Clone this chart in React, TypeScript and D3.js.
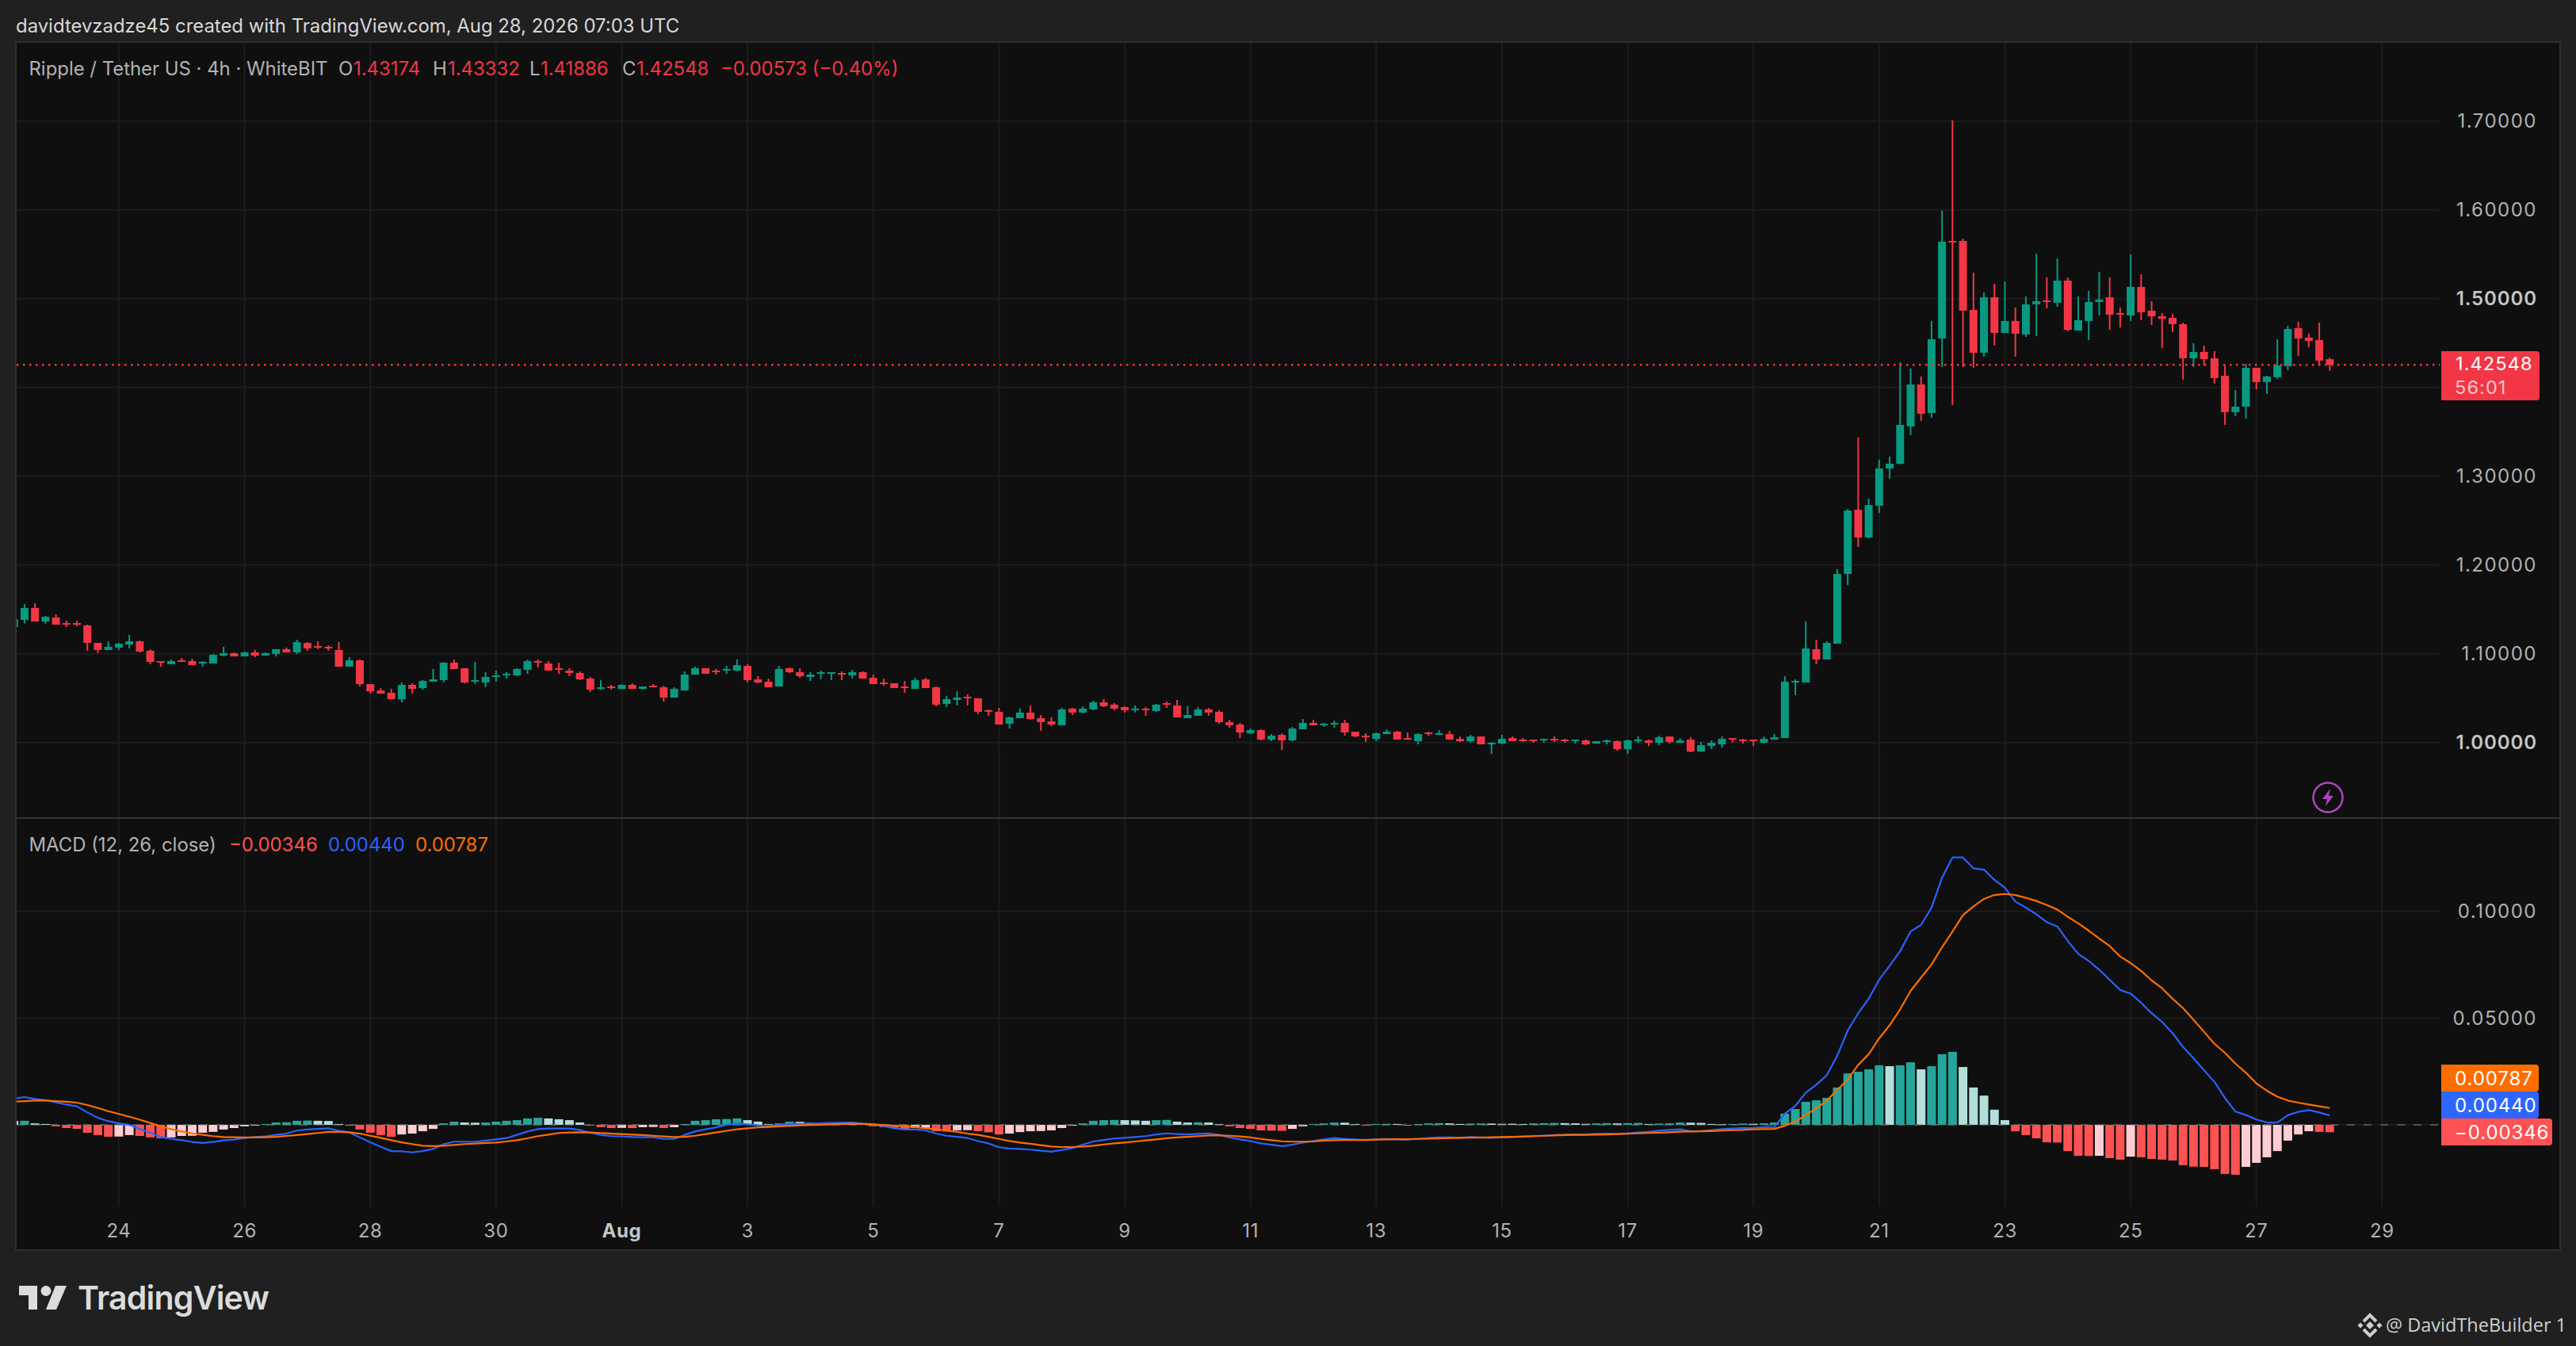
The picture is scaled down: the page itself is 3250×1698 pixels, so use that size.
import React from "react";
import * as d3 from "d3";

// ---- Candles: 4h bars, first bar index 0 is Jul 22 (clipped at the pane edge) ----
const opens = [
1.1301,1.1381,1.1515,1.1363,1.1408,1.1345,1.1345,1.1319,1.1122,1.1042,
1.1069,1.1104,1.1140,1.1033,1.0917,1.0881,1.0926,1.0917,1.0890,1.0890,
1.0979,1.1006,1.0970,1.1015,1.0979,1.0997,1.1051,1.1015,1.1122,1.1086,
1.1078,1.1042,1.0854,1.0926,1.0658,1.0586,1.0560,1.0488,1.0649,1.0613,
1.0685,1.0703,1.0899,1.0837,1.0685,1.0676,1.0738,1.0756,1.0756,1.0819,
1.0917,1.0890,1.0837,1.0810,1.0783,1.0720,1.0604,1.0631,1.0604,1.0649,
1.0604,1.0640,1.0622,1.0506,1.0586,1.0765,1.0837,1.0810,1.0810,1.0810,
1.0863,1.0711,1.0685,1.0631,1.0837,1.0792,1.0738,1.0774,1.0774,1.0783,
1.0756,1.0792,1.0729,1.0676,1.0667,1.0631,1.0604,1.0711,1.0622,1.0435,
1.0480,1.0516,1.0498,1.0364,1.0346,1.0212,1.0274,1.0337,1.0274,1.0238,
1.0194,1.0382,1.0337,1.0373,1.0453,1.0426,1.0399,1.0364,1.0382,1.0355,
1.0444,1.0417,1.0274,1.0301,1.0373,1.0346,1.0229,1.0203,1.0104,1.0140,
1.0033,1.0086,1.0024,1.0149,1.0221,1.0194,1.0203,1.0221,1.0122,1.0077,
1.0041,1.0095,1.0122,1.0050,1.0015,1.0113,1.0086,1.0095,1.0041,1.0015,
1.0068,0.9979,0.9988,1.0050,1.0033,1.0033,1.0024,1.0041,1.0033,1.0015,
1.0024,0.9988,1.0006,1.0015,0.9925,1.0015,1.0024,0.9997,1.0068,0.9997,
1.0033,0.9898,0.9961,0.9979,1.0050,1.0033,1.0033,0.9997,1.0033,1.0051,
1.0676,1.0676,1.1051,1.0935,1.1113,1.1899,1.2622,1.2310,1.2667,1.3086,
1.3140,1.3560,1.4033,1.3712,1.4551,1.5649,1.5649,1.4873,1.4390,1.5015,
1.4614,1.4748,1.4596,1.4935,1.4980,1.4953,1.5203,1.4640,1.4748,1.4962,
1.5015,1.4837,1.4810,1.5132,1.4864,1.4801,1.4783,1.4712,1.4328,1.4399,
1.4328,1.4132,1.3721,1.3783,1.4221,1.4060,1.4114,1.4239,1.4667,1.4560,
1.4533,1.43174];

const highs = [
1.1390,1.1560,1.1569,1.1426,1.1444,1.1372,1.1372,1.1328,1.1122,1.1140,
1.1122,1.1212,1.1149,1.1051,1.0917,1.0935,1.0952,1.0944,1.0917,1.0997,
1.1078,1.1015,1.1024,1.1042,1.1015,1.1051,1.1069,1.1158,1.1131,1.1140,
1.1095,1.1131,1.0961,1.0935,1.0658,1.0613,1.0604,1.0676,1.0667,1.0703,
1.0828,1.0908,1.0935,1.0837,1.0908,1.0792,1.0810,1.0792,1.0837,1.0935,
1.0935,1.0917,1.0899,1.0837,1.0801,1.0738,1.0703,1.0649,1.0658,1.0667,
1.0631,1.0658,1.0640,1.0622,1.0801,1.0854,1.0837,1.0828,1.0863,1.0935,
1.0881,1.0747,1.0720,1.0863,1.0845,1.0836,1.0792,1.0810,1.0792,1.0801,
1.0818,1.0801,1.0765,1.0720,1.0667,1.0693,1.0729,1.0729,1.0631,1.0525,
1.0578,1.0542,1.0498,1.0373,1.0390,1.0292,1.0382,1.0417,1.0310,1.0283,
1.0390,1.0390,1.0408,1.0471,1.0489,1.0444,1.0408,1.0417,1.0399,1.0435,
1.0462,1.0480,1.0408,1.0399,1.0390,1.0364,1.0256,1.0221,1.0158,1.0149,
1.0095,1.0104,1.0176,1.0265,1.0256,1.0221,1.0247,1.0256,1.0122,1.0104,
1.0113,1.0149,1.0131,1.0113,1.0104,1.0122,1.0140,1.0131,1.0068,1.0086,
1.0068,1.0006,1.0086,1.0068,1.0050,1.0033,1.0041,1.0068,1.0041,1.0033,
1.0033,1.0015,1.0033,1.0024,1.0033,1.0068,1.0033,1.0077,1.0068,1.0050,
1.0059,1.0006,1.0024,1.0068,1.0050,1.0041,1.0033,1.0068,1.0095,1.0747,
1.0712,1.1363,1.1158,1.1140,1.1953,1.2631,1.3435,1.2747,1.3185,1.3220,
1.4283,1.4212,1.4123,1.4748,1.5989,1.7007,1.5676,1.5292,1.5069,1.5167,
1.5194,1.4899,1.5024,1.5507,1.5239,1.5453,1.5239,1.5024,1.5087,1.5301,
1.5239,1.4899,1.5498,1.5274,1.4971,1.4837,1.4828,1.4730,1.4498,1.4471,
1.4408,1.4248,1.3971,1.4265,1.4221,1.4132,1.4542,1.4694,1.4739,1.4605,
1.4730,1.43332];

const lows = [
1.1301,1.1340,1.1363,1.1337,1.1328,1.1301,1.1310,1.1033,1.1006,1.1042,
1.1042,1.1060,1.1015,1.0881,1.0854,1.0881,1.0908,1.0872,1.0854,1.0890,
1.0970,1.0970,1.0970,1.0961,1.0979,1.0970,1.1015,1.0997,1.1033,1.1051,
1.1033,1.0854,1.0854,1.0631,1.0551,1.0551,1.0488,1.0453,1.0551,1.0595,
1.0685,1.0676,1.0828,1.0667,1.0658,1.0622,1.0685,1.0720,1.0747,1.0774,
1.0845,1.0810,1.0774,1.0747,1.0703,1.0569,1.0595,1.0595,1.0604,1.0604,
1.0595,1.0622,1.0462,1.0506,1.0586,1.0765,1.0774,1.0765,1.0774,1.0801,
1.0676,1.0667,1.0622,1.0631,1.0783,1.0729,1.0693,1.0711,1.0702,1.0702,
1.0720,1.0720,1.0658,1.0640,1.0613,1.0560,1.0604,1.0613,1.0408,1.0399,
1.0417,1.0417,1.0319,1.0301,1.0203,1.0158,1.0274,1.0256,1.0131,1.0185,
1.0194,1.0310,1.0328,1.0364,1.0399,1.0364,1.0337,1.0337,1.0301,1.0346,
1.0390,1.0283,1.0274,1.0301,1.0301,1.0212,1.0167,1.0050,1.0095,1.0024,
1.0015,0.9916,1.0015,1.0149,1.0194,1.0176,1.0167,1.0077,1.0059,1.0006,
1.0015,1.0095,1.0033,1.0033,0.9979,1.0077,1.0086,1.0033,1.0006,0.9997,
0.9979,0.9872,0.9979,1.0015,1.0006,0.9997,0.9997,1.0006,0.9997,0.9988,
0.9970,0.9988,0.9979,0.9907,0.9872,0.9997,0.9961,0.9970,0.9988,0.9997,
0.9890,0.9898,0.9925,0.9943,0.9997,0.9988,0.9961,0.9988,1.0033,1.0051,
1.0533,1.0676,1.0881,1.0935,1.1113,1.1774,1.2203,1.2301,1.2586,1.2970,
1.3131,1.3462,1.3623,1.3658,1.4230,1.3801,1.4230,1.4221,1.4346,1.4471,
1.4614,1.4346,1.4569,1.4578,1.4890,1.4908,1.4632,1.4640,1.4533,1.4810,
1.4649,1.4676,1.4748,1.4757,1.4703,1.4444,1.4623,1.4087,1.4230,1.4248,
1.4042,1.3578,1.3676,1.3649,1.3980,1.3926,1.4096,1.4194,1.4355,1.4453,
1.4248,1.41886];

const closes = [
1.1390,1.1515,1.1363,1.1417,1.1328,1.1328,1.1328,1.1122,1.1042,1.1078,
1.1113,1.1140,1.1024,1.0908,1.0899,1.0917,1.0908,1.0872,1.0908,1.0988,
1.1006,1.0970,1.1015,1.0979,1.1006,1.1051,1.1015,1.1131,1.1060,1.1069,
1.1060,1.0854,1.0926,1.0658,1.0577,1.0551,1.0488,1.0649,1.0604,1.0694,
1.0711,1.0899,1.0828,1.0676,1.0703,1.0738,1.0756,1.0774,1.0828,1.0917,
1.0899,1.0810,1.0819,1.0783,1.0711,1.0595,1.0622,1.0613,1.0649,1.0604,
1.0631,1.0622,1.0506,1.0604,1.0765,1.0837,1.0774,1.0792,1.0828,1.0872,
1.0703,1.0676,1.0622,1.0828,1.0792,1.0747,1.0765,1.0792,1.0792,1.0765,
1.0792,1.0720,1.0658,1.0658,1.0613,1.0613,1.0702,1.0613,1.0426,1.0489,
1.0507,1.0498,1.0346,1.0346,1.0203,1.0283,1.0337,1.0265,1.0229,1.0203,
1.0373,1.0337,1.0382,1.0453,1.0408,1.0382,1.0364,1.0382,1.0364,1.0426,
1.0426,1.0283,1.0310,1.0373,1.0337,1.0229,1.0194,1.0113,1.0140,1.0033,
1.0077,1.0024,1.0158,1.0221,1.0194,1.0212,1.0221,1.0113,1.0068,1.0059,
1.0104,1.0122,1.0033,1.0033,1.0095,1.0095,1.0104,1.0033,1.0015,1.0068,
0.9979,0.9997,1.0041,1.0015,1.0015,1.0015,1.0041,1.0024,1.0015,1.0033,
0.9979,1.0015,1.0024,0.9925,1.0024,1.0033,0.9997,1.0059,1.0006,1.0024,
0.9898,0.9970,0.9997,1.0041,1.0033,1.0015,1.0015,1.0041,1.0059,1.0685,
1.0694,1.1060,1.0935,1.1122,1.1899,1.2613,1.2310,1.2675,1.3086,1.3140,
1.3578,1.4033,1.3703,1.4542,1.5640,1.5632,1.4864,1.4390,1.5015,1.4614,
1.4748,1.4605,1.4935,1.4971,1.4962,1.5203,1.4649,1.4757,1.4962,1.4989,
1.4819,1.4819,1.5132,1.4846,1.4801,1.4774,1.4712,1.4328,1.4399,1.4319,
1.4105,1.3721,1.3783,1.4221,1.4060,1.4123,1.4248,1.4658,1.4551,1.4524,
1.4301,1.42548];

// ---- MACD (12, 26, close) ----
const macdLine = [
.0123,.0130,.0121,.0116,.0105,.0095,.0087,.0058,.0033,.0017,
.0007,0,-.0019,-.0037,-.0057,-.0066,-.0072,-.0080,-.0085,-.0080,
-.0073,-.0069,-.0062,-.0057,-.0054,-.0047,-.0041,-.0027,-.0022,-.0019,
-.0016,-.0028,-.0035,-.0059,-.0082,-.0103,-.0123,-.0124,-.0129,-.0123,
-.0113,-.0090,-.0079,-.0079,-.0079,-.0074,-.0068,-.0062,-.0047,-.0031,
-.0020,-.0017,-.0017,-.0017,-.0024,-.0037,-.0047,-.0053,-.0054,-.0057,
-.0058,-.0058,-.0066,-.0066,-.0047,-.0031,-.0021,-.0012,0,.0006,
.0002,-.0002,-.0010,.0001,.0004,.0004,.0006,.0007,.0009,.0010,
.0011,.0005,.0002,-.0006,-.0016,-.0022,-.0022,-.0026,-.0041,-.0051,
-.0056,-.0062,-.0076,-.0087,-.0105,-.0111,-.0113,-.0116,-.0121,-.0126,
-.0118,-.0109,-.0093,-.0078,-.0071,-.0064,-.0061,-.0057,-.0053,-.0045,
-.0040,-.0043,-.0045,-.0042,-.0040,-.0047,-.0059,-.0068,-.0076,-.0087,
-.0093,-.0100,-.0093,-.0083,-.0076,-.0068,-.0062,-.0066,-.0069,-.0071,
-.0069,-.0066,-.0068,-.0069,-.0066,-.0062,-.0059,-.0059,-.0061,-.0057,
-.0059,-.0061,-.0059,-.0057,-.0054,-.0053,-.0051,-.0048,-.0046,-.0045,
-.0045,-.0042,-.0041,-.0043,-.0040,-.0036,-.0033,-.0027,-.0024,-.0021,
-.0030,-.0029,-.0025,-.0020,-.0017,-.0015,-.0014,-.0011,-.0010,.0052,
.0089,.0151,.0188,.0232,.0324,.0442,.0523,.0591,.0680,.0745,
.0814,.0906,.0937,.1018,.1158,.1253,.1253,.1202,.1196,.1148,
.1111,.1046,.1018,.0987,.0950,.0930,.0861,.0801,.0768,.0727,
.0680,.0632,.0615,.0572,.0523,.0482,.0430,.0365,.0312,.0256,
.0201,.0126,.0062,.0046,.0025,.0011,.0011,.0045,.0061,.0069,
.0058,.0044];

const signalLine = [
.0108,.0111,.0114,.0114,.0111,.0108,.0104,.0093,.0079,.0064,
.0051,.0038,.0024,.0009,-.0007,-.0020,-.0031,-.0040,-.0047,-.0053,
-.0057,-.0058,-.0059,-.0059,-.0058,-.0056,-.0052,-.0048,-.0043,-.0038,
-.0033,-.0033,-.0035,-.0041,-.0051,-.0061,-.0072,-.0082,-.0090,-.0098,
-.0100,-.0098,-.0094,-.0090,-.0088,-.0085,-.0083,-.0078,-.0072,-.0063,
-.0053,-.0046,-.0038,-.0036,-.0035,-.0036,-.0038,-.0041,-.0043,-.0046,
-.0048,-.0051,-.0054,-.0057,-.0056,-.0051,-.0043,-.0036,-.0028,-.0021,
-.0016,-.0012,-.0010,-.0007,-.0005,-.0002,-.0001,0,.0002,.0004,
.0005,.0005,.0002,-.0001,-.0004,-.0007,-.0011,-.0016,-.0021,-.0027,
-.0033,-.0041,-.0047,-.0056,-.0066,-.0076,-.0083,-.0089,-.0095,-.0102,
-.0104,-.0104,-.0102,-.0098,-.0092,-.0087,-.0083,-.0078,-.0073,-.0068,
-.0063,-.0059,-.0056,-.0053,-.0050,-.0050,-.0051,-.0054,-.0059,-.0066,
-.0072,-.0077,-.0079,-.0079,-.0078,-.0074,-.0072,-.0071,-.0071,-.0071,
-.0069,-.0068,-.0067,-.0067,-.0066,-.0065,-.0064,-.0062,-.0061,-.0060,
-.0060,-.0058,-.0057,-.0056,-.0055,-.0053,-.0051,-.0050,-.0048,-.0047,
-.0047,-.0046,-.0045,-.0043,-.0041,-.0040,-.0038,-.0037,-.0035,-.0032,
-.0031,-.0030,-.0029,-.0027,-.0025,-.0024,-.0021,-.0020,-.0019,-.0004,
.0015,.0046,.0077,.0114,.0163,.0213,.0281,.0331,.0405,.0467,
.0541,.0628,.0690,.0752,.0832,.0906,.0983,.1024,.1059,.1077,
.1082,.1077,.1064,.1049,.1030,.1009,.0975,.0944,.0910,.0873,
.0838,.0789,.0758,.0721,.0677,.0640,.0591,.0547,.0492,.0436,
.0380,.0337,.0287,.0244,.0194,.0160,.0132,.0114,.0104,.0095,
.0087,.0079];

const histogram = [
.0018,.0019,.0007,.0004,-.0007,-.0015,-.0019,-.0037,-.0048,-.0056,
-.0055,-.0048,-.0052,-.0059,-.0063,-.0059,-.0052,-.0051,-.0037,-.0033,
-.0022,-.0015,-.0007,-.0004,.0004,.0011,.0012,.0019,.0020,.0019,
.0018,.0004,-.0004,-.0022,-.0037,-.0048,-.0056,-.0045,-.0041,-.0030,
-.0019,.0007,.0015,.0011,.0010,.0011,.0015,.0019,.0022,.0030,
.0033,.0030,.0026,.0022,.0011,-.0004,-.0011,-.0015,-.0014,-.0015,
-.0011,-.0010,-.0015,-.0011,.0004,.0019,.0022,.0026,.0027,.0030,
.0022,.0015,.0004,.0007,.0015,.0014,.0010,.0009,.0010,.0009,
.0009,.0006,-.0007,-.0011,-.0014,-.0019,-.0015,-.0014,-.0030,-.0031,
-.0026,-.0025,-.0030,-.0035,-.0045,-.0041,-.0034,-.0030,-.0029,-.0026,
-.0015,-.0004,.0007,.0019,.0022,.0023,.0022,.0021,.0019,.0022,
.0023,.0015,.0011,.0012,.0011,.0004,-.0007,-.0015,-.0019,-.0026,
-.0027,-.0028,-.0019,-.0007,.0004,.0007,.0011,.0010,.0004,-.0004,
.0004,.0005,.0004,-.0004,.0004,.0007,.0008,.0007,.0004,.0006,
.0007,.0006,.0005,.0005,.0004,.0007,.0008,.0009,.0008,.0007,
.0005,.0007,.0008,.0007,.0008,.0009,.0004,.0006,.0007,.0011,
.0010,.0009,.0004,.0003,.0004,.0006,.0005,.0007,.0011,.0052,
.0074,.0108,.0115,.0126,.0175,.0241,.0249,.0260,.0279,.0275,
.0279,.0293,.0260,.0275,.0331,.0342,.0271,.0175,.0137,.0071,
.0022,-.0030,-.0048,-.0063,-.0082,-.0083,-.0123,-.0145,-.0146,-.0145,
-.0156,-.0163,-.0149,-.0152,-.0160,-.0163,-.0167,-.0189,-.0196,-.0197,
-.0208,-.0230,-.0234,-.0197,-.0178,-.0152,-.0123,-.0074,-.0045,-.0030,
-.0033,-.00346];

// ---- Axis labels ----
const priceGrid = [1.0, 1.1, 1.2, 1.3, 1.4, 1.5, 1.6, 1.7];
const priceLabels = [1.0, 1.1, 1.2, 1.3, 1.5, 1.6, 1.7]; // 1.4 sits behind the last-price tag
const emphasisedPrices = [1.0, 1.5];
const macdTicks = [0.05, 0.1];
const timeLabels = ["24","26","28","30","Aug","3","5","7","9","11","13","15","17","19","21","23","25","27","29"];
const lastPrice = 1.42548;
const countdown = "56:01";
const macdValue = 0.00440, signalValue = 0.00787, histValue = -0.00346;

// ---- Theme ----
const UP = "#089981", DOWN = "#f23645";
const BG = "#202020", PANE = "#0f0f0f", GRID = "#1c1c1c", FRAME = "#2e2e2e", AXIS = "#b2b2b2";
const FONT = "Inter, 'Liberation Sans', sans-serif";
const W = 3250, H = 1698;
const L = 21, R = 3229, PLOT_R = 3078, T = 54, DIV = 1032, TB = 1522, B = 1577;

const fmt = (v: number) => v.toFixed(5);
const minus = (s: string) => s.replace("-", "\u2212");

export default function App() {
  const n = closes.length;
  const x = d3.scaleLinear().domain([10, 226]).range([149.9, 3005.4]);
  const y = d3.scaleLinear().domain([1.5, 1.0]).range([376.7, 936.7]);
  const ym = d3.scaleLinear().domain([0.1, 0]).range([1149.8, 1419]);
  const idx = d3.range(n);
  const timeIdx = timeLabels.map((_, i) => 10 + i * 12);

  const lineOf = (a: number[]) =>
    d3.line<number>().x((i) => x(i)).y((i) => ym(a[i]))(idx) || "";

  const histColor = (i: number) => {
    const v = histogram[i];
    const prev = i > 0 ? histogram[i - 1] : Infinity;
    if (v >= 0) return v > prev ? "#26a69a" : "#b2dfdb";
    return v < prev ? "#ff5252" : "#ffcdd2";
  };

  const axisText = (label: string, yy: number, strong = false, key?: string) => (
    <text key={key} x={3201} y={yy} dy="0.36em" textAnchor="end" fontSize={24} fontFamily={FONT}
      fill={strong ? "#c4c4c4" : AXIS} fontWeight={strong ? 600 : 400} letterSpacing={strong ? 0.9 : 1.5}>{label}</text>
  );

  const tag = (yy: number, h: number, w: number, color: string, label: string) => (
    <g>
      <path d={`M3080,${yy}H${3080 + w - 4}a4,4 0 0 1 4,4V${yy + h - 4}a4,4 0 0 1 -4,4H3080Z`} fill={color} />
      <text x={3097} y={yy + h / 2} dy="0.36em" fontSize={24} fontFamily={FONT} fill="#fff" letterSpacing={0.9}>{label}</text>
    </g>
  );

  return (
    <svg width={W} height={H} viewBox={`0 0 ${W} ${H}`}
      style={{ position: "absolute", left: 0, top: 0, display: "block", background: BG }}>
      <defs>
        <clipPath id="pricePane"><rect x={L} y={T} width={PLOT_R - L} height={DIV - T} /></clipPath>
        <clipPath id="macdPane"><rect x={L} y={DIV} width={PLOT_R - L} height={TB - DIV} /></clipPath>
      </defs>

      <rect x={0} y={0} width={W} height={H} fill={BG} />
      <text x={20} y={32} dy="0.36em" fontSize={23.9} fontFamily={FONT} fill="#d8d8d8">davidtevzadze45 created with TradingView.com, Aug 28, 2026 07:03 UTC</text>

      {/* frame */}
      <rect x={20} y={53} width={R - 19} height={B - 53} fill={PANE} stroke={FRAME} strokeWidth={2} />

      {/* grid */}
      {timeIdx.map((i) => (
        <line key={i} x1={x(i)} x2={x(i)} y1={T} y2={TB} stroke={GRID} strokeWidth={2} />
      ))}
      {priceGrid.map((p) => (
        <line key={p} x1={L} x2={PLOT_R} y1={y(p)} y2={y(p)} stroke={GRID} strokeWidth={2} />
      ))}
      {macdTicks.map((p) => (
        <line key={p} x1={L} x2={PLOT_R} y1={ym(p)} y2={ym(p)} stroke={GRID} strokeWidth={2} />
      ))}
      <line x1={L} x2={PLOT_R} y1={ym(0)} y2={ym(0)} stroke={GRID} strokeWidth={2} />
      <line x1={L} x2={R} y1={DIV} y2={DIV} stroke="#333" strokeWidth={2} />

      {/* candles */}
      <g clipPath="url(#pricePane)">
        {idx.map((i) => {
          const up = closes[i] >= opens[i];
          const c = up ? UP : DOWN;
          const top = y(Math.max(opens[i], closes[i]));
          const bot = y(Math.min(opens[i], closes[i]));
          return (
            <g key={i} fill={c}>
              <rect x={x(i) - 1} y={y(highs[i])} width={2} height={Math.max(1, y(lows[i]) - y(highs[i]))} />
              <rect x={x(i) - 5} y={top} width={10} height={Math.max(2, bot - top)} />
            </g>
          );
        })}
        <line x1={L} x2={PLOT_R} y1={y(lastPrice)} y2={y(lastPrice)} stroke={DOWN} strokeWidth={2.5}
          strokeDasharray="2.5 5.5" />
      </g>

      {/* MACD */}
      <g clipPath="url(#macdPane)">
        {idx.map((i) => {
          const v = histogram[i];
          const a = ym(Math.max(v, 0)), b = ym(Math.min(v, 0));
          return <rect key={i} x={x(i) - 5.5} y={a} width={11} height={Math.max(1, b - a)} fill={histColor(i)} />;
        })}
        <line x1={L} x2={PLOT_R} y1={ym(0)} y2={ym(0)} stroke="#787878" strokeOpacity={0.6} strokeWidth={2}
          strokeDasharray="10 11" />
        <path d={lineOf(macdLine)} fill="none" stroke="#2962ff" strokeWidth={2.2} strokeLinejoin="round" />
        <path d={lineOf(signalLine)} fill="none" stroke="#ff6d00" strokeWidth={2.2} strokeLinejoin="round" />
      </g>

      {/* legends */}
      <g fontSize={23.9} fontFamily={FONT}>
        <text x={36.5} y={86} dy="0.36em" fill="#b2b2b2">Ripple / Tether US · 4h · WhiteBIT</text>
        <text x={427} y={86} dy="0.36em" fill="#b2b2b2">O</text>
        <text x={446} y={86} dy="0.36em" fill={DOWN}>1.43174</text>
        <text x={546} y={86} dy="0.36em" fill="#b2b2b2">H</text>
        <text x={565} y={86} dy="0.36em" fill={DOWN}>1.43332</text>
        <text x={668} y={86} dy="0.36em" fill="#b2b2b2">L</text>
        <text x={682} y={86} dy="0.36em" fill={DOWN}>1.41886</text>
        <text x={785} y={86} dy="0.36em" fill="#b2b2b2">C</text>
        <text x={803} y={86} dy="0.36em" fill={DOWN}>1.42548</text>
        <text x={909} y={86} dy="0.36em" fill={DOWN}>{"\u22120.00573 (\u22120.40%)"}</text>
        <text x={36.5} y={1065} dy="0.36em" fill="#b2b2b2">MACD (12, 26, close)</text>
        <text x={289} y={1065} dy="0.36em" fill="#ff5252">{minus(fmt(histValue))}</text>
        <text x={414} y={1065} dy="0.36em" fill="#2962ff">{fmt(macdValue)}</text>
        <text x={524} y={1065} dy="0.36em" fill="#ff6d00">{fmt(signalValue)}</text>
      </g>

      {/* lightning badge */}
      <g transform="translate(2937,1006)">
        <circle r={18.5} fill="none" stroke="#ab47bc" strokeWidth={2.5} />
        <path d="M3,-11 L-7,2 L-1,2 L-3,11 L7,-2 L1,-2 Z" fill="#ab47bc" />
      </g>

      {/* price scale */}
      {priceLabels.map((p) => axisText(p.toFixed(5), y(p), emphasisedPrices.includes(p), `p${p}`))}
      {macdTicks.map((p) => axisText(p.toFixed(5), ym(p), false, `m${p}`))}

      {/* last price tag */}
      <path d="M3080,443H3200a4,4 0 0 1 4,4V501a4,4 0 0 1 -4,4H3080Z" fill={DOWN} />
      <text x={3098} y={459} dy="0.36em" fontSize={23.5} fontFamily={FONT} fill="#fff" letterSpacing={1.1}>{fmt(lastPrice)}</text>
      <text x={3097} y={488.5} dy="0.36em" fontSize={23.5} fontFamily={FONT} fill="#ffc4ca" letterSpacing={1.1}>{countdown}</text>

      {/* MACD tags */}
      {tag(1343, 34, 123, "#ff6d00", fmt(signalValue))}
      {tag(1377, 34, 123, "#2f66ff", fmt(macdValue))}
      {tag(1411, 34, 140, "#ff5252", minus(fmt(histValue)))}

      {/* time scale */}
      {timeLabels.map((t, i) => (
        <text key={t + i} x={x(timeIdx[i])} y={1552} dy="0.36em" textAnchor="middle" fontSize={24} fontFamily={FONT}
          fill={t === "Aug" ? "#c4c4c4" : AXIS} fontWeight={t === "Aug" ? 700 : 400} letterSpacing={0.6}>{t}</text>
      ))}

      {/* TradingView logo */}
      <g fill="#dcdcdc">
        <path d="M24,1622H47V1652H36V1634H24Z" />
        <circle cx={58} cy={1628.5} r={6.5} />
        <path d="M70,1622H84L71,1652H58Z" />
        <text x={98} y={1652} fontSize={41} fontWeight={600} fontFamily={FONT} letterSpacing={-0.8}>TradingView</text>
      </g>

      {/* author mark */}
      <g transform="translate(2990,1672)" fill="#cfcfcf">
        <rect x={-3.5} y={-3.5} width={7} height={7} transform="rotate(45)" />
        <rect x={-14.5} y={-2.5} width={5} height={5} transform="rotate(45 -12 0)" />
        <rect x={9.5} y={-2.5} width={5} height={5} transform="rotate(45 12 0)" />
        <path d="M-8,-5 L0,-13 L8,-5" fill="none" stroke="#cfcfcf" strokeWidth={4} />
        <path d="M-8,5 L0,13 L8,5" fill="none" stroke="#cfcfcf" strokeWidth={4} />
      </g>
      <text x={3010} y={1672} dy="0.36em" fontSize={23.5} fontFamily="'Open Sans', sans-serif" fill="#cfcfcf">@ DavidTheBuilder 1</text>
    </svg>
  );
}
